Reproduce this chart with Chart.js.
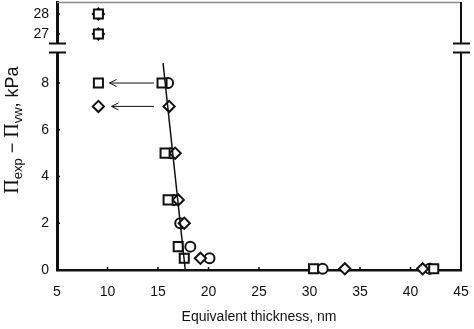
<!DOCTYPE html>
<html><head><meta charset="utf-8">
<script src="https://cdn.jsdelivr.net/npm/chart.js@4"></script>
<style>html,body{margin:0;padding:0;background:#fff}</style>
</head><body>
<canvas id="c" width="474" height="329"></canvas>
<script>
// ---- data ----
const xTicks = [5, 10, 15, 20, 25, 30, 35, 40, 45];
const yTicksLow = [0, 2, 4, 6, 8];
const yTicksHigh = [27, 28];

const squareX = [9.1, 15.4, 15.7, 16.0, 17.0, 17.6, 30.4, 42.3];
const squareY = [8, 8, 5, 3, 1, 0.5, 0.05, 0.05];
const squareHighX = [9.1, 9.1];
const squareHighY = [28, 27];

const diamondX = [9.1, 16.1, 16.7, 17.0, 17.6, 19.2, 33.5, 41.2];
const diamondY = [7, 7, 5, 3, 2, 0.5, 0.05, 0.05];
const diamondHighX = [9.1, 9.1];
const diamondHighY = [28, 27];

const circleX = [16.0, 16.3, 16.6, 17.2, 18.2, 20.1, 31.3, 41.9];
const circleY = [8, 5, 3, 2, 1, 0.5, 0.05, 0.05];

const fitX = [15.5, 17.7];
const fitY = [8.85, 0];

const arrowTailX = [14.6, 14.6];
const arrowTipX = [10.2, 10.4];
const arrowY = [8, 7];

const pts = (xs, ys) => xs.map((x, i) => ({x, y: ys[i]}));
const FONT = '"Liberation Sans", Arial, sans-serif';

function markerDs(data, style, radius, axis) {
  return {
    type: 'scatter', data, yAxisID: axis, clip: false,
    pointStyle: style, pointRadius: radius, pointHoverRadius: radius,
    pointBorderWidth: 2, pointBackgroundColor: '#fff', pointBorderColor: '#111',
    showLine: false
  };
}

const decor = {
  id: 'decor',
  afterDraw(chart) {
    const ctx = chart.ctx, a = chart.chartArea;
    const sx = chart.scales.x, sy = chart.scales.y, st = chart.scales.yTop;
    ctx.save();
    ctx.strokeStyle = '#8a8a8a'; ctx.lineWidth = 1.5;
    ctx.beginPath(); ctx.moveTo(a.left, a.top + 0.5); ctx.lineTo(a.right, a.top + 0.5); ctx.stroke();
    ctx.strokeStyle = '#111'; ctx.lineWidth = 2;
    ctx.beginPath(); ctx.moveTo(a.right, a.top); ctx.lineTo(a.right, a.bottom); ctx.stroke();
    ctx.lineWidth = 1.5;
    xTicks.forEach(v => {
      if (v === sx.min || v === sx.max) return;
      const px = sx.getPixelForValue(v);
      ctx.beginPath(); ctx.moveTo(px, a.bottom); ctx.lineTo(px, a.bottom - 3); ctx.stroke();
    });
    yTicksLow.forEach(v => {
      if (v === 0) return;
      const py = sy.getPixelForValue(v);
      ctx.beginPath(); ctx.moveTo(a.left, py); ctx.lineTo(a.left + 3, py); ctx.stroke();
    });
    yTicksHigh.forEach(v => {
      const py = st.getPixelForValue(v);
      ctx.beginPath(); ctx.moveTo(a.left, py); ctx.lineTo(a.left + 3, py); ctx.stroke();
    });
    const yb = st.bottom;
    [a.left, a.right].forEach(xa => {
      ctx.fillStyle = '#fff';
      ctx.fillRect(xa - 4, yb - 4, 8, 8);
      ctx.strokeStyle = '#111'; ctx.lineWidth = 2;
      ctx.beginPath();
      ctx.moveTo(xa - 8, yb - 4.5); ctx.lineTo(xa + 9, yb - 4.5);
      ctx.moveTo(xa - 8, yb + 4.5); ctx.lineTo(xa + 9, yb + 4.5);
      ctx.stroke();
    });
    ctx.strokeStyle = '#111'; ctx.lineWidth = 1;
    arrowY.forEach((v, i) => {
      const py = sy.getPixelForValue(v);
      const x0 = sx.getPixelForValue(arrowTailX[i]);
      const x1 = sx.getPixelForValue(arrowTipX[i]);
      ctx.beginPath();
      ctx.moveTo(x0, py); ctx.lineTo(x1, py);
      ctx.moveTo(x1 + 7, py - 3.5); ctx.lineTo(x1, py); ctx.lineTo(x1 + 7, py + 3.5);
      ctx.stroke();
    });
    const segs = [
      {t: 'Π', f: '20px "Liberation Serif", serif', dy: 0},
      {t: 'exp', f: '13px ' + FONT, dy: 4},
      {t: ' − ', f: '18px ' + FONT, dy: 0},
      {t: 'Π', f: '20px "Liberation Serif", serif', dy: 0},
      {t: 'vw', f: '13px ' + FONT, dy: 4},
      {t: ', kPa', f: '18px ' + FONT, dy: 0}
    ];
    let total = 0;
    segs.forEach(s => { ctx.font = s.f; s.w = ctx.measureText(s.t).width; total += s.w; });
    ctx.translate(18, 130);
    ctx.rotate(-Math.PI / 2);
    ctx.fillStyle = '#111'; ctx.textBaseline = 'alphabetic';
    let cx = -total / 2;
    segs.forEach(s => { ctx.font = s.f; ctx.fillText(s.t, cx, s.dy); cx += s.w; });
    ctx.restore();
  }
};

const fitY_ = s => { s.width = 57; s.paddingTop = 0; s.paddingBottom = 0; };

new Chart(document.getElementById('c'), {
  type: 'scatter',
  data: {
    datasets: [
      {type: 'line', data: pts(fitX, fitY), yAxisID: 'y', borderColor: '#111', borderWidth: 1.5,
       pointRadius: 0, fill: false, tension: 0, clip: false},
      markerDs(pts(squareX, squareY), 'rect', 6.4, 'y'),
      markerDs(pts(squareHighX, squareHighY), 'rect', 6.4, 'yTop'),
      markerDs(pts(diamondX, diamondY), 'rectRot', 5.6, 'y'),
      markerDs(pts(diamondHighX, diamondHighY), 'rectRot', 5.6, 'yTop'),
      markerDs(pts(circleX, circleY), 'circle', 5, 'y')
    ]
  },
  options: {
    responsive: false, animation: false,
    layout: {autoPadding: false, padding: {left: 0, right: 13, top: 2, bottom: 0}},
    plugins: {legend: {display: false}, tooltip: {enabled: false}},
    scales: {
      x: {
        type: 'linear', min: 5, max: 45,
        afterBuildTicks: s => { s.ticks = xTicks.map(v => ({value: v})); },
        afterFit: s => { s.height = 59; s.paddingLeft = 0; s.paddingRight = 0; },
        grid: {display: false, drawTicks: false},
        border: {color: '#111', width: 2.5},
        ticks: {font: {size: 14, family: FONT}, color: '#111', padding: 14, maxRotation: 0},
        title: {display: true, text: 'Equivalent thickness, nm', font: {size: 14, family: FONT},
                color: '#111', padding: {top: 0, bottom: 3}}
      },
      y: {
        type: 'linear', position: 'left', stack: 'ys', stackWeight: 4.83, min: 0, max: 9.5,
        afterBuildTicks: s => { s.ticks = yTicksLow.map(v => ({value: v})); },
        afterFit: fitY_,
        grid: {display: false, drawTicks: false},
        border: {color: '#111', width: 3},
        ticks: {font: {size: 14, family: FONT}, color: '#111', padding: 8}
      },
      yTop: {
        type: 'linear', position: 'left', stack: 'ys', stackWeight: 1, min: 26.3, max: 28.6,
        afterBuildTicks: s => { s.ticks = yTicksHigh.map(v => ({value: v})); },
        afterFit: fitY_,
        grid: {display: false, drawTicks: false},
        border: {color: '#111', width: 3},
        ticks: {font: {size: 14, family: FONT}, color: '#111', padding: 8}
      }
    }
  },
  plugins: [decor]
});
</script>
</body></html>
